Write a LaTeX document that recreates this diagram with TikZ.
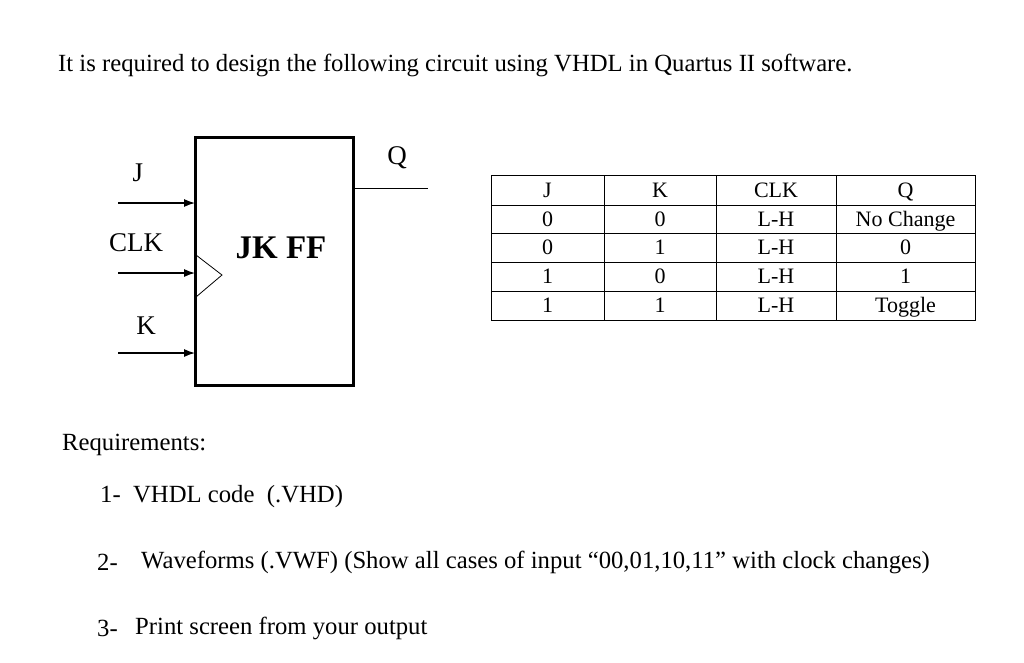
\documentclass[tikz,border=0pt]{standalone}
\usepackage{fontspec}
\setmainfont{Liberation Serif}
\usetikzlibrary{arrows.meta}
\begin{document}
\begin{tikzpicture}[x=1pt,y=-1pt,
  txt/.style={anchor=west,inner sep=0pt,font=\fontsize{24.7}{28}\selectfont},
  lbl/.style={inner sep=0pt,font=\fontsize{27}{30}\selectfont},
  cell/.style={inner sep=0pt,anchor=base,font=\fontsize{22}{24}\selectfont},
  inp/.style={line width=1.2pt,-{Latex[length=11pt,width=8pt]}}]
\useasboundingbox (0,0) rectangle (1024,662);
\node[txt] (t) at (58,65) {It is required to design the following circuit using VHDL in Quartus II software.};
% flip-flop
\node[draw,line width=3pt,minimum width=158pt,minimum height=248pt,inner sep=0pt] (ff) at (274,261) {};
\node[inner sep=0pt,font=\fontsize{33}{36}\selectfont\bfseries] (lab) at (281,248) {JK FF};
\coordinate (ja) at (118,203); \coordinate (jb) at (195,203);
\coordinate (ca) at (118,273); \coordinate (cb) at (195,273);
\coordinate (ka) at (118,353); \coordinate (kb) at (195,353);
\draw[inp] (ja) -- (jb);
\draw[inp] (ca) -- (cb);
\draw[inp] (ka) -- (kb);
\coordinate (tr1) at (196,255); \coordinate (tr2) at (222,275); \coordinate (tr3) at (196,297);
\draw[line width=0.8pt] (tr1) -- (tr2) -- (tr3);
\node[lbl] (J) at (138,173) {J};
\node[lbl] (CLK) at (136,243) {CLK};
\node[lbl] (K) at (146,326) {K};
\node[lbl] (Q) at (397,158) {Q};
\coordinate (qa) at (355,188); \coordinate (qb) at (428,188);
\draw[line width=1pt] (qa) -- (qb);
% table
\draw[line width=1pt] (491,175) rectangle (975,320);
\foreach \x in {604,716,836} \draw[line width=1pt] (\x,175) -- (\x,320);
\foreach \y in {205,233,262,291} \draw[line width=1pt] (491,\y) -- (975,\y);
\foreach \y/\a/\b/\c/\d [count=\i] in {197/J/K/CLK/Q,226/0/0/L-H/No Change,254.5/0/1/L-H/0,283.5/1/0/L-H/1,312.5/1/1/L-H/Toggle}{
  \node[cell] (c\i a) at (547.5,\y) {\a};
  \node[cell] (c\i b) at (660,\y) {\b};
  \node[cell] (c\i c) at (776,\y) {\c};
  \node[cell] (c\i d) at (905.5,\y) {\d};
}
\node[txt] (r) at (62,445) {Requirements:};
\node[txt] (r1) at (100,497) {1-\ \ VHDL code\ \ (.VHD)};
\node[txt] (r2n) at (97,562) {2-};
\node[txt] (r2) at (141,562) {Waveforms (.VWF) (Show all cases of input “00,01,10,11” with clock changes)};
\node[txt] (r3n) at (97,628) {3-};
\node[txt] (r3) at (135,628) {Print screen from your output};
\end{tikzpicture}
\end{document}
